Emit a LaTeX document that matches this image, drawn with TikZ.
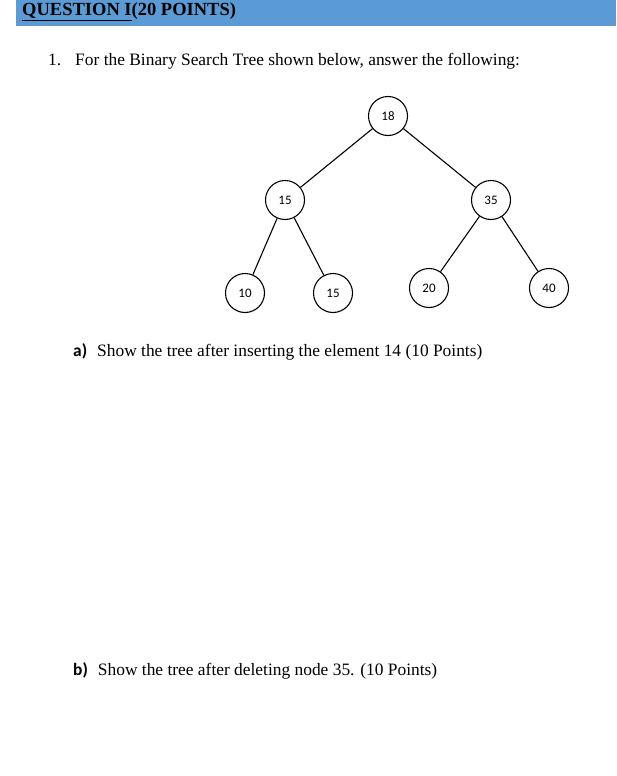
\documentclass[tikz,border=0pt]{standalone}
\usepackage{fontspec}
\setmainfont{Liberation Serif}
\newfontfamily\calib{Carlito}
\begin{document}
\begin{tikzpicture}[x=1pt,y=-1pt,
  tn/.style={circle,draw,line width=1.1pt,minimum size=39pt,inner sep=0pt,font=\calib\fontsize{13}{15}\selectfont},
  ed/.style={line width=1.1pt},
  txt/.style={anchor=west,inner sep=0pt,font=\fontsize{17.4}{20}\selectfont}]
\useasboundingbox (0,0) rectangle (616,776);
\fill[white] (0,0) rectangle (616,776);
\fill[fill={rgb,255:red,91;green,155;blue,213}] (16,0) rectangle (616,26);
\node[txt,font=\bfseries\fontsize{18.5}{20}\selectfont] (hd) at (22,12) {\underline{QUESTION I}(20 POINTS)};
\node[txt] (q1) at (48,61) {1.\hspace{14pt}For the Binary Search Tree shown below, answer the following:};
\node[tn] (r) at (388,116) {18};
\node[tn] (a) at (285,200) {15};
\node[tn] (b) at (491,200) {35};
\node[tn] (c) at (245,293) {10};
\node[tn] (d) at (333,293) {15};
\node[tn] (e) at (429,288) {20};
\node[tn] (f) at (549,288) {40};
\draw[ed] (r)--(a); \draw[ed] (r)--(b);
\draw[ed] (a)--(c); \draw[ed] (a)--(d);
\draw[ed] (b)--(e); \draw[ed] (b)--(f);
\node[txt] (qa) at (73,352) {{\calib\bfseries a)}\hspace{10pt}Show the tree after inserting the element 14 (10 Points)};
\node[txt] (qb) at (73,671) {{\calib\bfseries b)}\hspace{10pt}Show the tree after deleting node 35. (10 Points)};
\end{tikzpicture}
\end{document}
